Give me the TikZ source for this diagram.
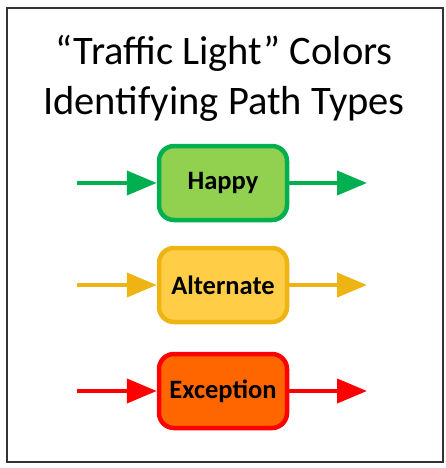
\documentclass[tikz,border=0pt]{standalone}
\usepackage{fontspec}
\setmainfont{Carlito}
\usetikzlibrary{arrows.meta}
\definecolor{happyline}{RGB}{0,176,80}
\definecolor{happyfill}{RGB}{146,208,80}
\definecolor{altline}{RGB}{238,180,20}
\definecolor{altfill}{RGB}{255,206,70}
\definecolor{excline}{RGB}{255,0,0}
\definecolor{excfill}{RGB}{255,102,0}
\begin{document}
\begin{tikzpicture}[
        x=1pt, y=-1pt, % pixel-like coordinates, origin top left
        pathbox/.style={draw, rectangle, rounded corners=15pt, line width=4.5pt, minimum width=128pt, minimum height=74pt, font=\fontsize{26.5}{30}\selectfont\bfseries},
        flow/.style={line width=4pt, -{Triangle[length=30pt,width=24pt]}}
    ]
    \useasboundingbox (0,0) rectangle (445,468);
    % Frame
    \draw[line width=2pt, black!80] (7,8) rectangle (443,462);
    % Title
    \node[align=center, font=\fontsize{40.5}{50}\selectfont] (title) at (224,78) {``Traffic Light'' Colors\\Identifying Path Types};
    % Path boxes
    \node[pathbox, draw=happyline, fill=happyfill] (happy) at (223,183) {Happy};
    \node[pathbox, draw=altline, fill=altfill] (alternate) at (223,285) {Alternate};
    \node[pathbox, draw=excline, fill=excfill] (exception) at (223,391) {Exception};
    % Connector ends
    \coordinate (happyin) at (77,183);
    \coordinate (happyout) at (367,183);
    \coordinate (altin) at (77,285);
    \coordinate (altout) at (367,285);
    \coordinate (excin) at (77,391);
    \coordinate (excout) at (367,391);
    % Arrows
    \draw[flow, happyline] (happyin) -- (happy.west);
    \draw[flow, happyline] (happy.east) -- (happyout);
    \draw[flow, altline] (altin) -- (alternate.west);
    \draw[flow, altline] (alternate.east) -- (altout);
    \draw[flow, excline] (excin) -- (exception.west);
    \draw[flow, excline] (exception.east) -- (excout);
\end{tikzpicture}
\end{document}
